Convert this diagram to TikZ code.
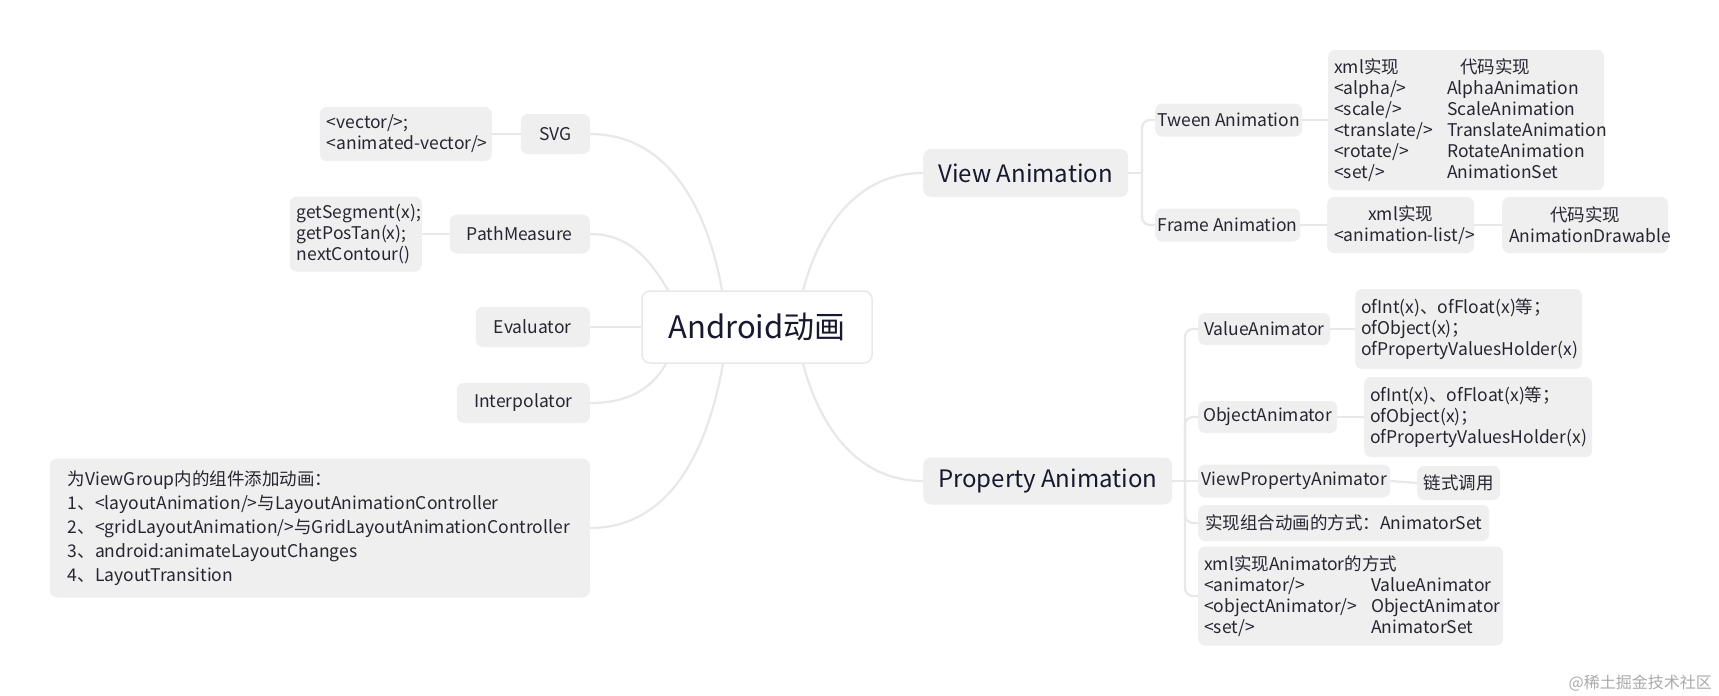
\documentclass[tikz,border=0pt]{standalone}
\usepackage{fontspec}
\setmainfont{Noto Sans CJK SC}
\usetikzlibrary{calc}
\definecolor{boxgray}{RGB}{239,239,240}
\definecolor{linegray}{RGB}{232,232,232}
\definecolor{navy}{RGB}{24,24,46}
\definecolor{leaftext}{RGB}{38,38,48}
\definecolor{markgray}{RGB}{170,170,170}
\newcommand{\colpair}[3]{\makebox[#1][l]{#2}#3}
\hyphenpenalty=10000
\exhyphenpenalty=10000
\tikzset{
  root/.style={draw=linegray, line width=1.5pt, fill=white, rounded corners=8pt,
    text=navy, font=\fontsize{31}{36}\selectfont, minimum width=230pt, minimum height=72pt},
  topic/.style={fill=boxgray, rounded corners=8pt, text=navy,
    font=\fontsize{24}{28}\selectfont, inner sep=0pt},
  leaf/.style={fill=boxgray, rounded corners=7pt, text=leaftext,
    font=\fontsize{17.5}{21}\selectfont, inner sep=0pt},
  note/.style={leaf, align=left, inner xsep=7pt, inner ysep=0pt},
  boxsize/.style 2 args={minimum width=#1pt, minimum height=#2pt},
  branch/.style={draw=linegray, line width=2.2pt},
}
\begin{document}
\begin{tikzpicture}[x=1pt,y=-1pt]
        \path[fill=white] (0,0) rectangle (1719,696);
        \useasboundingbox (0,0) rectangle (1719,696);
        % root
        \node[root] (root) at (757,327) {Android动画};
        % left side
        \node[leaf, boxsize={69}{40}, anchor=east] (svg) at (590,134) {SVG};
        \node[note, text width=158pt, minimum height=54pt, anchor=east] (vec) at (492,134)
            {<vector/>;\\\mbox{<animated-vector/>}};
        \node[leaf, boxsize={140}{39}, anchor=east] (pm) at (590,234) {PathMeasure};
        \node[note, text width=118pt, minimum height=75pt, anchor=east] (seg) at (422,234)
            {getSegment(x);\\getPosTan(x);\\nextContour()};
        \node[leaf, boxsize={114}{40}, anchor=east] (eva) at (590,327) {Evaluator};
        \node[leaf, boxsize={133}{40}, anchor=east] (itp) at (590,403) {Interpolator};
        \node[note, text width=504pt, inner xsep=18pt, minimum height=139pt, anchor=east,
            font=\fontsize{17.5}{24}\selectfont] (vg) at (590,528)
            {为ViewGroup内的组件添加动画：\\
             1、<layoutAnimation/>与LayoutAnimationController\\
             2、<gridLayoutAnimation/>与GridLayoutAnimationController\\
             3、android:animateLayoutChanges\\
             4、LayoutTransition};
        % right side: view animation
        \node[topic, boxsize={205}{48}, anchor=west] (va) at (923,173) {View Animation};
        \node[leaf, boxsize={147}{33}, anchor=west] (tw) at (1155,120) {Tween Animation};
        \node[note, text width=264pt, inner xsep=6pt, minimum height=140pt, anchor=west] (twd) at (1328,120)
            {\colpair{126pt}{xml实现}{代码实现}\\
             \colpair{113pt}{<alpha/>}{AlphaAnimation}\\
             \colpair{113pt}{<scale/>}{ScaleAnimation}\\
             \colpair{113pt}{<translate/>}{TranslateAnimation}\\
             \colpair{113pt}{<rotate/>}{RotateAnimation}\\
             \colpair{113pt}{<set/>}{AnimationSet}};
        \node[leaf, boxsize={145}{33}, anchor=west] (fr) at (1155,225) {Frame Animation};
        \node[note, align=center, text width=133pt, minimum height=56pt, anchor=west] (frx) at (1327,225)
            {xml实现\\\mbox{<animation-list/>}};
        \node[note, align=center, text width=152pt, minimum height=56pt, anchor=west] (frc) at (1502,225)
            {代码实现\\AnimationDrawable};
        % right side: property animation
        \node[topic, boxsize={249}{47}, anchor=west] (pa) at (923,481) {Property Animation};
        \node[leaf, boxsize={132}{32}, anchor=west] (vaa) at (1198,329) {ValueAnimator};
        \node[note, text width=215pt, inner xsep=6pt, minimum height=80pt, anchor=west] (vad) at (1355,329)
            {ofInt(x)、ofFloat(x)等；\\ofObject(x)；\\ofPropertyValuesHolder(x)};
        \node[leaf, boxsize={139}{32}, anchor=west] (oa) at (1198,417) {ObjectAnimator};
        \node[note, text width=216pt, inner xsep=6pt, minimum height=80pt, anchor=west] (oad) at (1364,417)
            {ofInt(x)、ofFloat(x)等；\\ofObject(x)；\\ofPropertyValuesHolder(x)};
        \node[leaf, boxsize={192}{33}, anchor=west] (vpa) at (1198,481) {ViewPropertyAnimator};
        \node[leaf, boxsize={83}{34}, anchor=west] (chain) at (1417,483) {链式调用};
        \node[leaf, boxsize={291}{36}, anchor=west] (set) at (1198,523) {实现组合动画的方式：AnimatorSet};
        \node[note, text width=293pt, inner xsep=6pt, minimum height=99pt, anchor=west] (xa) at (1198,596)
            {xml实现Animator的方式\\
             \colpair{167pt}{<animator/>}{ValueAnimator}\\
             \colpair{167pt}{<objectAnimator/>}{ObjectAnimator}\\
             \colpair{167pt}{<set/>}{AnimatorSet}};
        % watermark
        \node[font=\fontsize{16}{18}\selectfont, text=markgray, anchor=east, inner sep=0pt] (mark) at (1712,683)
            {@稀土掘金技术社区};
        % junctions
        \coordinate (vaj) at (1142,173);
        \coordinate (paj) at (1185,481);
        % connectors round the root
        \draw[branch] (svg.east) to[out=0,in=100] ([xshift=-35pt]root.north);
        \draw[branch] (pm.east) to[out=0,in=120] ([xshift=-89pt]root.north);
        \draw[branch] (eva.east) -- (root.west);
        \draw[branch] (itp.east) to[out=0,in=-120] ([xshift=-91pt]root.south);
        \draw[branch] (vg.east) to[out=0,in=-100] ([xshift=-34pt]root.south);
        \draw[branch] ([xshift=46pt]root.north) to[out=75,in=180] (va.west);
        \draw[branch] ([xshift=46pt]root.south) to[out=-75,in=180] (pa.west);
        % connectors on the left
        \draw[branch] (vec.east) -- (svg.west);
        \draw[branch] (seg.east) -- (pm.west);
        % connectors for view animation
        \draw[branch] (va.east) -- (vaj);
        \draw[branch, rounded corners=8pt] (tw.west) -| (vaj) |- (fr.west);
        \draw[branch] (tw.east) -- (twd.west);
        \draw[branch] (fr.east) -- (frx.west);
        \draw[branch] (frx.east) -- (frc.west);
        % connectors for property animation
        \draw[branch] (pa.east) -- (vpa.west);
        \draw[branch, rounded corners=8pt] (vaa.west) -| (paj) |- (xa.west);
        \draw[branch, rounded corners=8pt] (oa.west) -| (paj);
        \draw[branch, rounded corners=8pt] (set.west) -| (paj);
        \draw[branch] (vaa.east) -- (vad.west);
        \draw[branch] (oa.east) -- (oad.west);
        \draw[branch] (vpa.east) -- (chain.west);
\end{tikzpicture}
\end{document}
